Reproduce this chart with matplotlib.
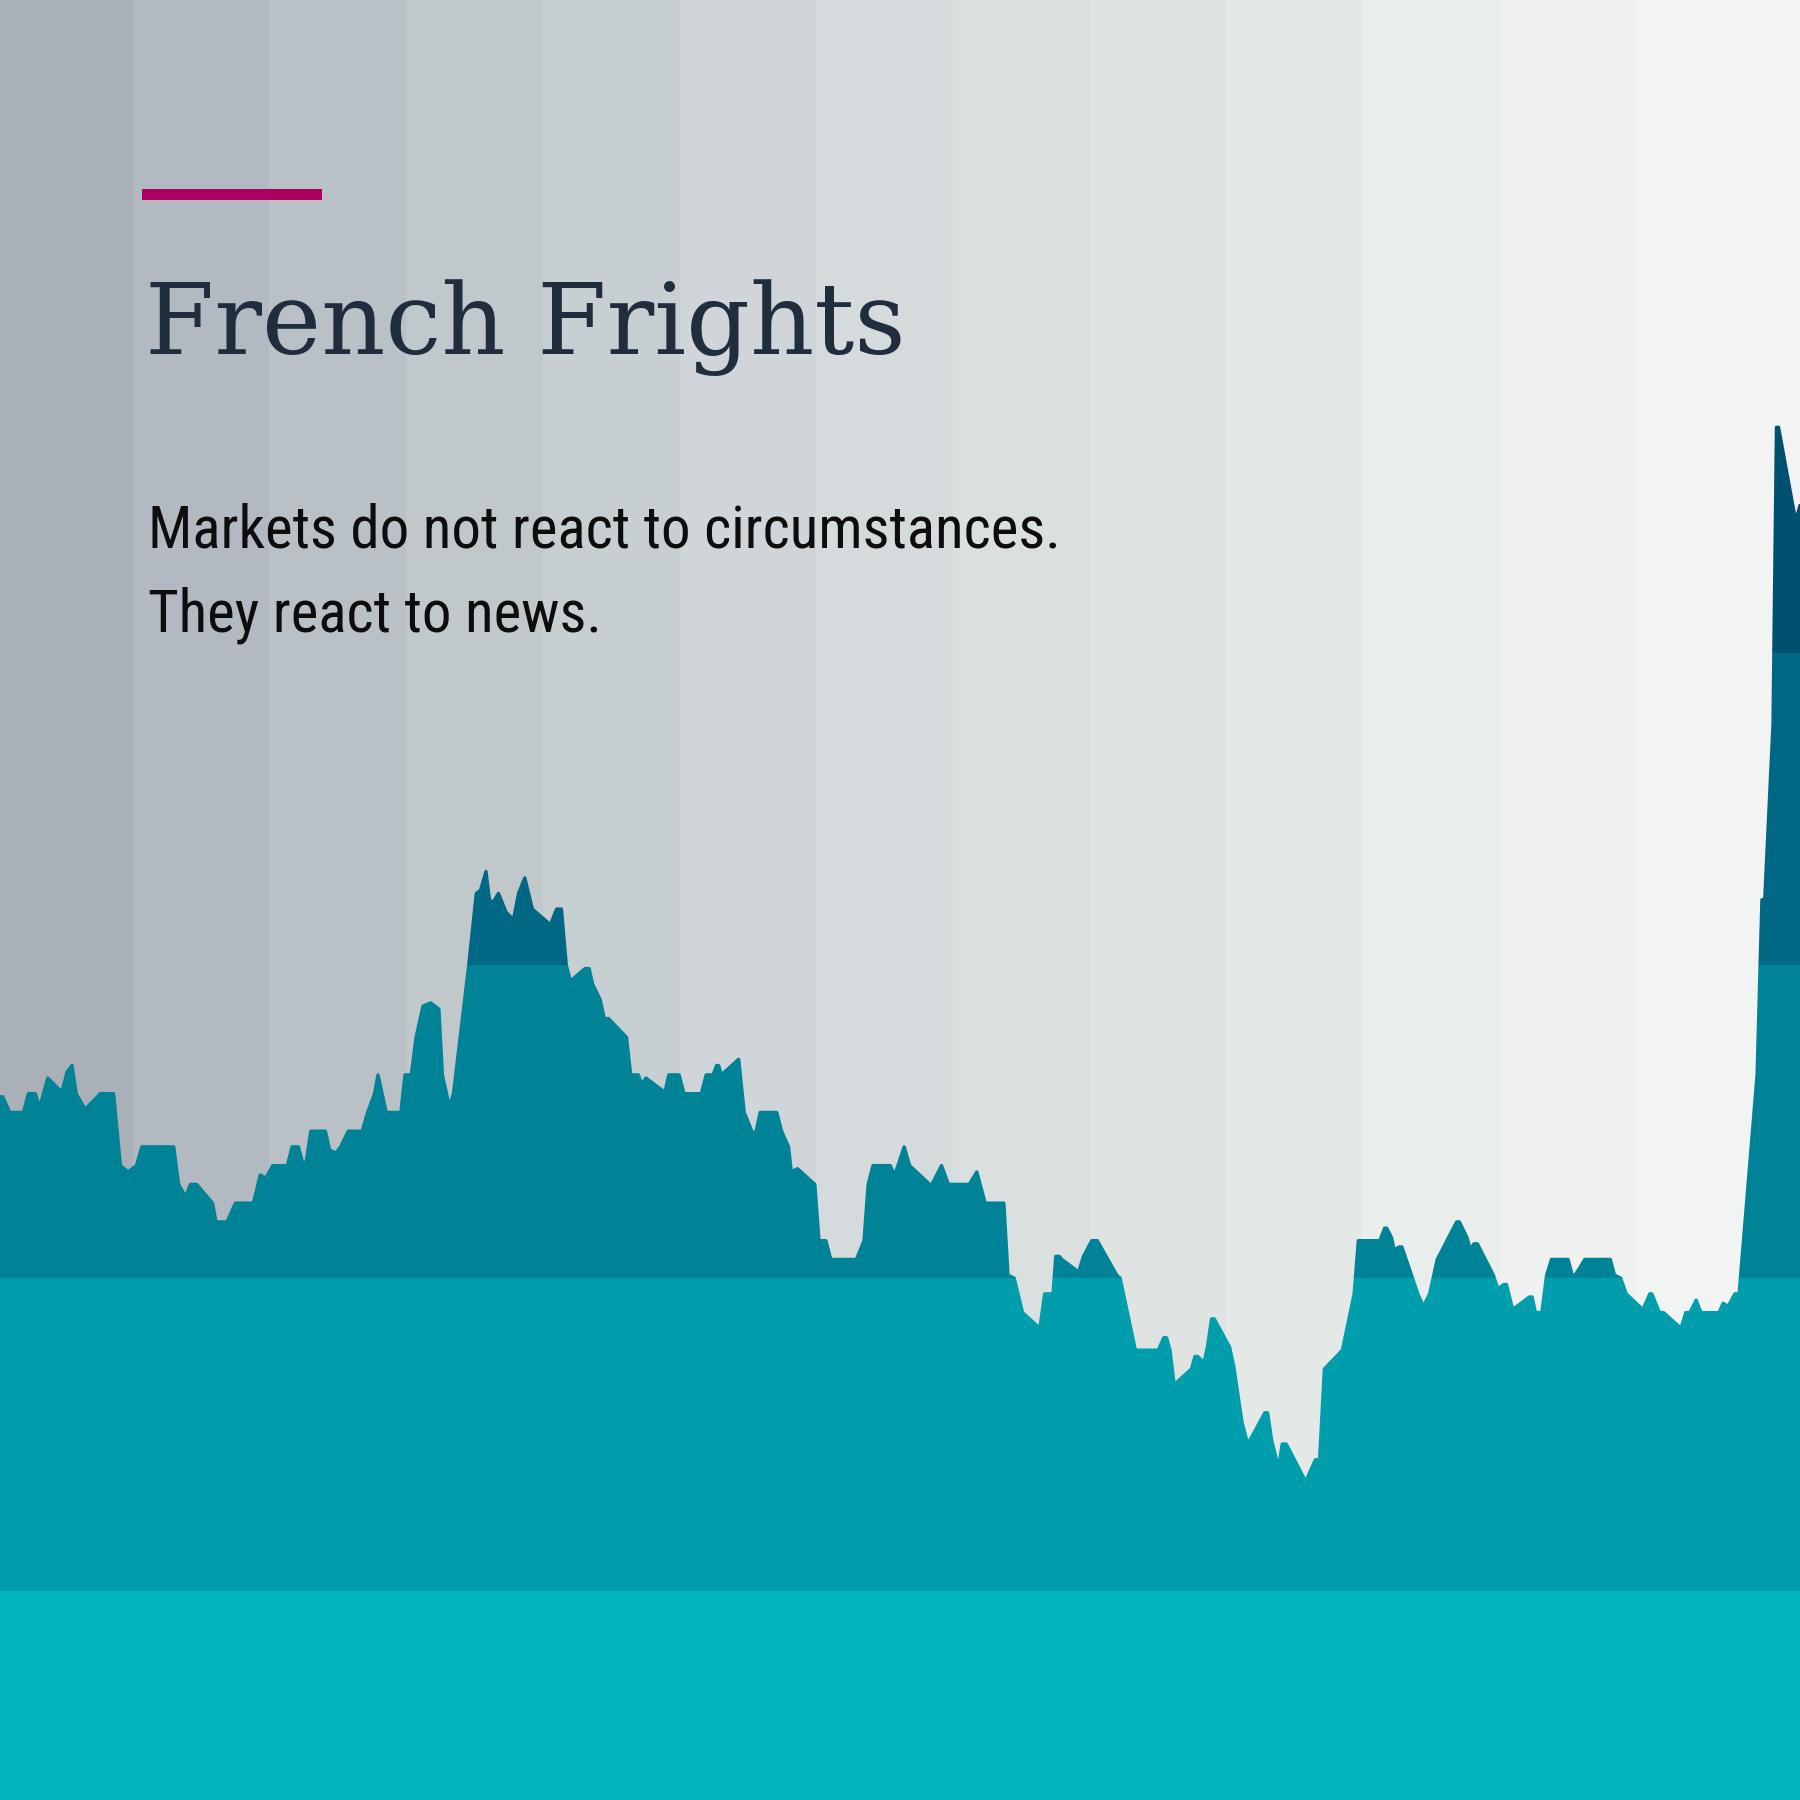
import matplotlib
matplotlib.use("Agg")
import matplotlib.pyplot as plt
from matplotlib import font_manager as fm
from matplotlib.patches import Rectangle
import numpy as np

# French-German 10y spread (bps) by trading day, vertices
days = [0.0, 0.4, 1.4, 3.4, 4.1, 5.1, 5.5, 5.9, 6.9, 8.7, 9.0, 9.7, 10.4, 11.0, 12.3, 14.5,
        16.4, 17.4, 18.5, 19.7, 20.5, 25.1, 25.8, 26.8, 27.5, 28.4, 30.7, 31.2, 32.8, 34.0,
        36.6, 37.6, 38.4, 39.4, 41.5, 42.2, 43.1, 43.7, 44.2, 44.9, 47.0, 47.6, 48.5, 49.2,
        50.3, 52.3, 53.1, 54.1, 54.6, 55.8, 57.9, 58.5, 59.4, 60.1, 61.1, 62.2, 63.4, 63.9,
        64.9, 65.5, 66.3, 67.7, 68.8, 69.4, 70.2, 70.7, 71.2, 72.0, 73.1, 74.0, 74.2, 74.9,
        75.8, 76.9, 79.5, 80.4, 81.1, 81.8, 82.4, 84.5, 85.1, 85.6, 86.7, 87.3, 87.9, 90.5,
        91.1, 92.2, 92.7, 93.3, 95.7, 96.1, 96.6, 98.1, 98.8, 101.3, 102.0, 103.0, 103.5,
        103.8, 104.2, 106.7, 107.5, 108.6, 109.1, 109.8, 112.2, 112.9, 113.9, 114.3, 115.2,
        117.7, 118.3, 119.3, 120.0, 123.7, 124.8, 125.4, 126.1, 128.6, 129.2, 129.7, 130.6,
        131.4, 134.3, 134.6, 136.0, 137.0, 140.0, 141.1, 142.3, 145.0, 145.6, 146.5, 147.7,
        150.2, 150.9, 152.1, 152.5, 153.0, 153.4, 155.8, 156.5, 157.7, 158.5, 161.3, 161.8,
        164.0, 167.3, 168.1, 168.5, 169.0, 169.6, 172.1, 172.6, 173.0, 173.9, 174.4, 175.0,
        175.4, 177.6, 178.2, 179.4, 180.1, 180.5, 182.7, 183.1, 183.7, 184.5, 184.8, 185.2,
        185.8, 188.6, 190.0, 190.6, 191.3, 193.9, 195.6, 196.2, 199.3, 200.0, 200.3, 201.0,
        201.4, 202.1, 202.5, 204.8, 205.6, 206.5, 207.6, 210.4, 210.8, 211.9, 212.4, 212.9,
        213.4, 215.7, 216.3, 216.6, 217.2, 217.6, 218.5, 220.9, 221.3, 221.8, 222.7, 223.4,
        224.1, 226.5, 227.1, 227.5, 228.1, 228.9, 232.6, 233.2, 234.1, 234.9, 237.3, 238.3,
        238.6, 239.7, 240.3, 242.8, 243.5, 244.1, 245.0, 245.7, 248.3, 248.9, 249.6, 250.6,
        251.2, 253.8, 254.5, 254.9, 256.1, 256.6, 256.9, 259.3, 259.5, 260.0]
spread = [55.8, 55.8, 55.3, 55.3, 55.9, 55.9, 55.6, 55.6, 56.4, 56.0, 56.0, 56.6, 56.8, 55.9,
          55.4, 55.9, 55.9, 53.6, 53.4, 53.6, 54.2, 54.2, 53.0, 52.6, 53.0, 53.0, 52.4, 51.8,
          51.8, 52.4, 52.4, 53.3, 53.2, 53.6, 53.6, 54.2, 54.2, 53.7, 53.7, 54.7, 54.7, 54.1,
          54.0, 54.2, 54.7, 54.7, 55.3, 55.9, 56.5, 55.3, 55.3, 56.5, 56.5, 57.7, 58.7, 58.8,
          58.6, 56.5, 55.5, 55.9, 57.4, 60.0, 62.3, 62.4, 63.0, 62.1, 62.0, 62.3, 61.7, 61.5,
          61.5, 62.3, 62.8, 61.8, 61.3, 61.8, 61.8, 60.0, 59.5, 59.9, 59.9, 59.4, 58.9, 58.3,
          58.3, 57.7, 56.5, 56.5, 56.2, 56.4, 56.0, 56.0, 56.5, 56.5, 55.9, 55.9, 56.5, 56.5,
          56.8, 56.8, 56.5, 57.0, 55.3, 54.7, 54.6, 55.3, 55.3, 54.7, 54.2, 53.4, 53.5, 53.0,
          51.2, 51.2, 50.6, 50.6, 51.2, 53.0, 53.6, 53.6, 53.3, 53.6, 54.2, 53.6, 53.0, 53.0,
          53.6, 53.0, 53.0, 53.4, 52.4, 52.4, 50.1, 50.0, 48.9, 48.4, 49.5, 49.5, 50.7, 50.7,
          50.6, 50.2, 50.7, 51.2, 51.2, 50.1, 50.0, 47.7, 47.7, 48.1, 48.1, 47.7, 46.6, 47.1,
          47.5, 47.5, 47.3, 47.8, 48.7, 48.7, 47.8, 47.2, 45.4, 44.8, 44.8, 45.7, 45.7, 44.8,
          44.1, 44.1, 44.7, 44.7, 43.5, 44.2, 44.2, 47.1, 47.7, 49.5, 51.2, 51.2, 51.6, 51.6,
          51.3, 50.9, 51.0, 51.0, 49.5, 49.1, 49.5, 50.6, 51.8, 51.8, 51.3, 50.9, 51.1, 51.1,
          50.1, 49.7, 49.7, 49.8, 49.8, 49.0, 49.4, 49.4, 48.9, 48.9, 50.1, 50.6, 50.6, 50.1,
          50.1, 50.3, 50.6, 50.6, 50.1, 50.0, 49.5, 49.0, 49.5, 49.5, 48.9, 48.9, 48.4, 48.9,
          48.9, 49.3, 48.9, 48.9, 49.2, 49.1, 49.5, 49.5, 56.5, 62.1, 62.1, 67.7, 77.2, 77.2,
          74.3, 74.3, 74.7]

# calendar months on the same trading-day axis (background stripes)
month_edges = [-0.5, 19.2, 38.9, 58.7, 78.4, 98.2, 117.9, 137.6, 157.4, 177.1, 196.8,
               216.6, 236.1, 270.0]
month_colors = ["#a9b0b8", "#b2b9c0", "#b9c0c6", "#c1c8cb", "#c8cfd2", "#cfd5d8",
                "#d5dadc", "#dadfdf", "#dfe3e2", "#e4e8e7", "#e9edeb", "#eef1ef", "#f2f4f3"]

# spread levels that switch the area colour
band_levels = [40, 50, 60, 70]
band_colors = ["#00b5bd", "#009ead", "#008397", "#006884", "#005070"]

TITLE = "French Frights"
SUB1 = "Markets do not react to circumstances."
SUB2 = "They react to news."


def condensed_font():
    # the subtitle is set in a narrow sans; use one if the system has it
    ok_w = (400, "normal", "regular", "book", "Regular", "Normal")
    found = [f for f in fm.fontManager.ttflist
             if f.style == "normal" and f.weight in ok_w
             and ("Narrow" in f.name or "Condensed" in f.name
                  or f.stretch in ("condensed", "semi-condensed", "extra-condensed"))]
    for pref in ["Liberation Sans Narrow", "Roboto Condensed", "Open Sans Condensed",
                 "Noto Sans", "DejaVu Sans", "Lato", "Inter"]:
        for f in found:
            if f.name.startswith(pref) and "Mono" not in f.name and "Serif" not in f.name:
                return fm.FontProperties(fname=f.fname), True
    return fm.FontProperties(family="DejaVu Sans"), False


def fit_width(fig, txt, width_px):
    r = fig.canvas.get_renderer()
    w = txt.get_window_extent(renderer=r).width
    txt.set_fontsize(txt.get_fontsize() * width_px / w)


fig = plt.figure(figsize=(18, 18), dpi=100)
ax = fig.add_axes([0, 0, 1, 1])
ax.set_xlim(0, 260)
ax.set_ylim(33.32, 90.86)
ax.axis("off")

for i, c in enumerate(month_colors):
    ax.axvspan(month_edges[i], month_edges[i + 1], color=c, lw=0, zorder=0)

x = np.array(days)
y = np.array(spread)
edges = [20] + band_levels + [120]
for i, c in enumerate(band_colors):
    lo, hi = edges[i], edges[i + 1]
    clip = Rectangle((-10, lo), 300, hi - lo, transform=ax.transData)
    f = ax.fill_between(x, 20, y, color=c, lw=0, zorder=2)
    f.set_clip_path(clip)
    ln, = ax.plot(x, y, color=c, lw=2.4, solid_joinstyle="round",
                  solid_capstyle="round", zorder=3)
    ln.set_clip_path(clip)

fig.add_artist(Rectangle((0.0789, 0.8889), 0.1, 0.0059, transform=fig.transFigure,
                         color="#ac0060", lw=0))

title = fig.text(0.0805, 0.8033, TITLE, family=["DejaVu Serif"], fontsize=75,
                 color="#1f2d3d", va="baseline", ha="left")
fit_width(fig, title, 760)

fp, narrow = condensed_font()
s1 = fig.text(0.0825, 0.6958, SUB1, fontproperties=fp, fontsize=47, color="#0d0d0d",
              va="baseline", ha="left")
s2 = fig.text(0.0825, 0.6494, SUB2, fontproperties=fp, fontsize=47, color="#0d0d0d",
              va="baseline", ha="left")
fit_width(fig, s1, 912 if narrow else 1060)
s2.set_fontsize(s1.get_fontsize())

fig.savefig("out.png", dpi=100)
